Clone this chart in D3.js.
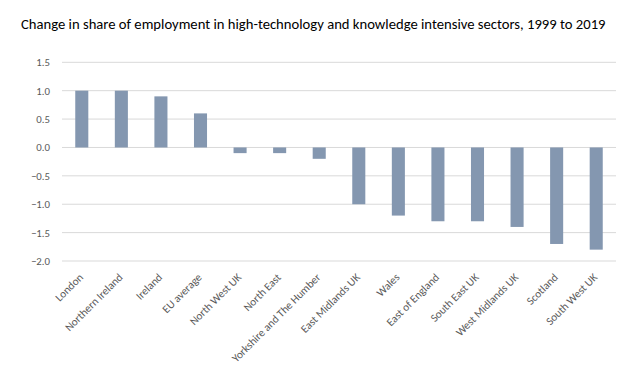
<!DOCTYPE html>
<html><head><meta charset="utf-8">
<script src="https://cdn.jsdelivr.net/npm/d3@7"></script>
<style>body{margin:0;background:#fff}</style>
</head><body>
<svg id="c" width="640" height="375"></svg>
<script>
const categories = ["London","Northern Ireland","Ireland","EU average","North West UK","North East","Yorkshire and The Humber","East Midlands UK","Wales","East of England","South East UK","West Midlands UK","Scotland","South West UK"];
const values = [1.0,1.0,0.9,0.6,-0.1,-0.1,-0.2,-1.0,-1.2,-1.3,-1.3,-1.4,-1.7,-1.8];
const yTicks = [1.5,1.0,0.5,0.0,-0.5,-1.0,-1.5,-2.0];
const title = "Change in share of employment in high-technology and knowledge intensive sectors, 1999 to 2019";

const svg = d3.select("#c");
const font = "Calibri, Carlito, 'Open Sans', 'Liberation Sans', sans-serif";
const L = 62, R = 616, T = 62.3, B = 261;
const x = d3.scaleBand().domain(categories).range([L, R]).paddingInner(0.67).paddingOuter(0.335);
const y = d3.scaleLinear().domain([-2, 1.5]).range([B, T]);

function fit(sel, base, target) {
  sel.style("font-size", base + "px");
  const w = sel.node().getComputedTextLength();
  return base * target / w;
}

// gridlines
svg.append("g").selectAll("line").data(yTicks).join("line")
  .attr("x1", L).attr("x2", R)
  .attr("y1", d => y(d)).attr("y2", d => y(d))
  .attr("stroke", "#d9d9d9").attr("stroke-width", 1);

// measure font sizes
const probe = svg.append("text").style("font-family", font).text("-2.0");
const tickSize = fit(probe, 10, 17);
probe.text("Yorkshire and The Humber");
const catSize = fit(probe, 10, 120);
probe.remove();

// y axis labels
const yAxis = d3.axisLeft(y).tickValues(yTicks).tickFormat(d3.format(".1f")).tickSize(0).tickPadding(0);
const ya = svg.append("g").attr("transform", `translate(50,0)`).call(yAxis);
ya.select(".domain").remove();
ya.selectAll("text").attr("fill", "#595959").style("font-family", font).style("font-size", tickSize + "px");

// bars
svg.append("g").selectAll("rect").data(values).join("rect")
  .attr("x", (d, i) => x(categories[i]))
  .attr("width", x.bandwidth())
  .attr("y", d => y(Math.max(0, d)))
  .attr("height", d => Math.abs(y(d) - y(0)))
  .attr("fill", "#8497b0");

// category labels
svg.append("g").selectAll("text").data(categories).join("text")
  .attr("transform", d => `translate(${x(d) + x.bandwidth() / 2 + 2},${278}) rotate(-45)`)
  .attr("text-anchor", "end")
  .attr("fill", "#595959")
  .style("font-family", font).style("font-size", catSize + "px")
  .text(d => d);

// title
const t = svg.append("text").attr("x", 21).attr("y", 29)
  .attr("fill", "#000").style("font-family", font).text(title);
t.style("font-size", fit(t, 14, 585) + "px");
</script>
</body></html>
